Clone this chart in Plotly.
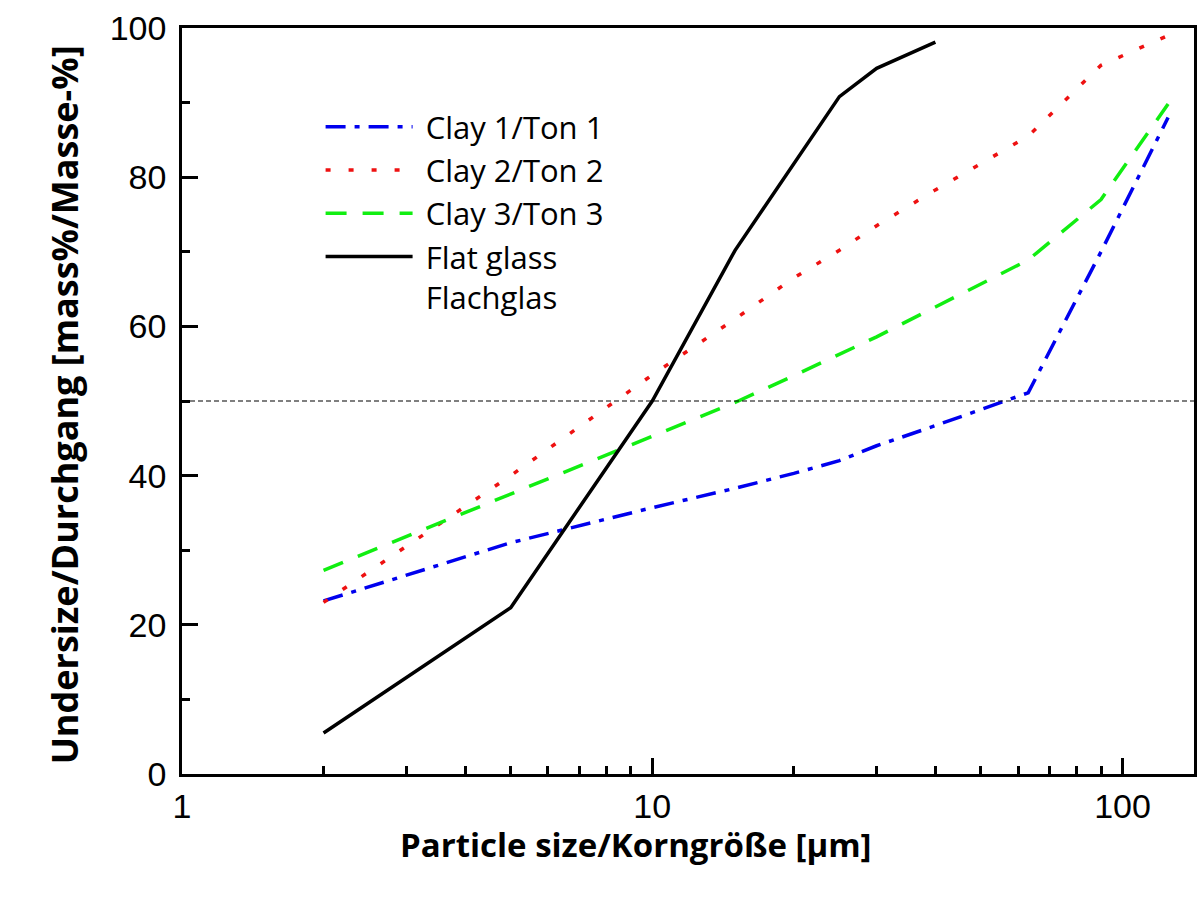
import plotly.graph_objects as go

# ---------------- data ----------------
size_clay = [2, 5, 10, 15, 20, 25, 30, 40, 63, 90, 125]
clay1 = [23.2, 31.0, 35.7, 38.3, 40.3, 42.0, 44.0, 46.7, 51.1, 70.0, 88.0]
clay2 = [23.0, 40.0, 53.5, 61.0, 66.5, 70.2, 73.5, 78.3, 85.5, 95.0, 99.0]
clay3 = [27.3, 37.5, 45.3, 49.8, 53.4, 56.3, 58.6, 62.6, 68.9, 77.0, 89.8]

size_glass = [2, 5, 10, 15, 25, 30, 40]
glass = [5.5, 22.3, 50.0, 70.2, 90.8, 94.6, 98.1]

names = ["\u00a0Clay 1/Ton 1", "\u00a0Clay 2/Ton 2", "\u00a0Clay 3/Ton 3",
         "\u00a0Flat glass<br>\u00a0Flachglas"]

median_level = 50

y_ticks = [0, 20, 40, 60, 80, 100]
y_minor = [10, 30, 50, 70, 90]
x_ticks = [1, 10, 100]
x_tick_text = ["1", "10", "100"]
x_minor = [2, 3, 4, 5, 6, 7, 8, 9, 20, 30, 40, 50, 60, 70, 80, 90]

x_title = "Particle size/Korngröße [µm]"
y_title = "Undersize/Durchgang [mass%/Masse-%]"

# ---------------- figure ----------------
fig = go.Figure()
lw = 3.5
fig.add_trace(go.Scatter(x=size_clay, y=clay1, mode="lines", name=names[0],
                         line=dict(color="#0000ee", width=lw, dash="20px,9px,5px,9px")))
fig.add_trace(go.Scatter(x=size_clay, y=clay2, mode="lines", name=names[1],
                         line=dict(color="#ee1111", width=lw, dash="5px,18px")))
fig.add_trace(go.Scatter(x=size_clay, y=clay3, mode="lines", name=names[2],
                         line=dict(color="#11ee11", width=lw, dash="21px,16px")))
fig.add_trace(go.Scatter(x=size_glass, y=glass, mode="lines", name=names[3],
                         line=dict(color="black", width=lw)))

fig.add_hline(y=median_level, line=dict(color="black", width=1.2, dash="5px,3px"))

tick_font = dict(family="Liberation Sans, Arial", size=34, color="black")

fig.update_xaxes(type="log", range=[0, 2.152], tickmode="array", tickvals=x_ticks,
                 ticktext=x_tick_text, ticks="inside", ticklen=16, tickwidth=2.5,
                 tickcolor="black", showline=True, linewidth=2.5, linecolor="black",
                 mirror=True, showgrid=False, zeroline=False, tickfont=tick_font,
                 ticklabelstandoff=0,
                 minor=dict(tickmode="array", tickvals=x_minor, ticks="inside",
                            ticklen=8, tickwidth=2.5, tickcolor="black", showgrid=False))
fig.update_yaxes(range=[0, 100], tickmode="array", tickvals=y_ticks, ticks="inside",
                 ticklen=16, tickwidth=2.5, tickcolor="black", showline=True,
                 linewidth=2.5, linecolor="black", mirror=True, showgrid=False,
                 zeroline=False, tickfont=tick_font, ticklabelstandoff=6,
                 minor=dict(tickmode="array", tickvals=y_minor, ticks="inside",
                            ticklen=8, tickwidth=2.5, tickcolor="black", showgrid=False))

fig.add_annotation(text="<b>" + x_title + "</b>", xref="paper", yref="paper",
                   x=0.449, y=-0.094, xanchor="center", yanchor="middle",
                   showarrow=False, font=dict(family="Open Sans", size=33, color="black"))
fig.add_annotation(text="<b>" + y_title + "</b>", xref="paper", yref="paper",
                   x=-0.116, y=0.495, xanchor="center", yanchor="middle",
                   textangle=-90, showarrow=False,
                   font=dict(family="Open Sans", size=36, color="black"))

fig.update_layout(
    width=1200, height=898,
    margin=dict(l=182, r=3, t=28, b=124),
    paper_bgcolor="white", plot_bgcolor="white",
    showlegend=True,
    legend=dict(x=(326 - 5 - 182) / 1015, y=(774 - 100) / 746, xanchor="left", yanchor="top",
                bgcolor="rgba(0,0,0,0)", borderwidth=0, itemwidth=87, valign="top",
                font=dict(family="Open Sans", size=31, color="black"),
                tracegroupgap=0),
)

fig.write_html("out.html")
